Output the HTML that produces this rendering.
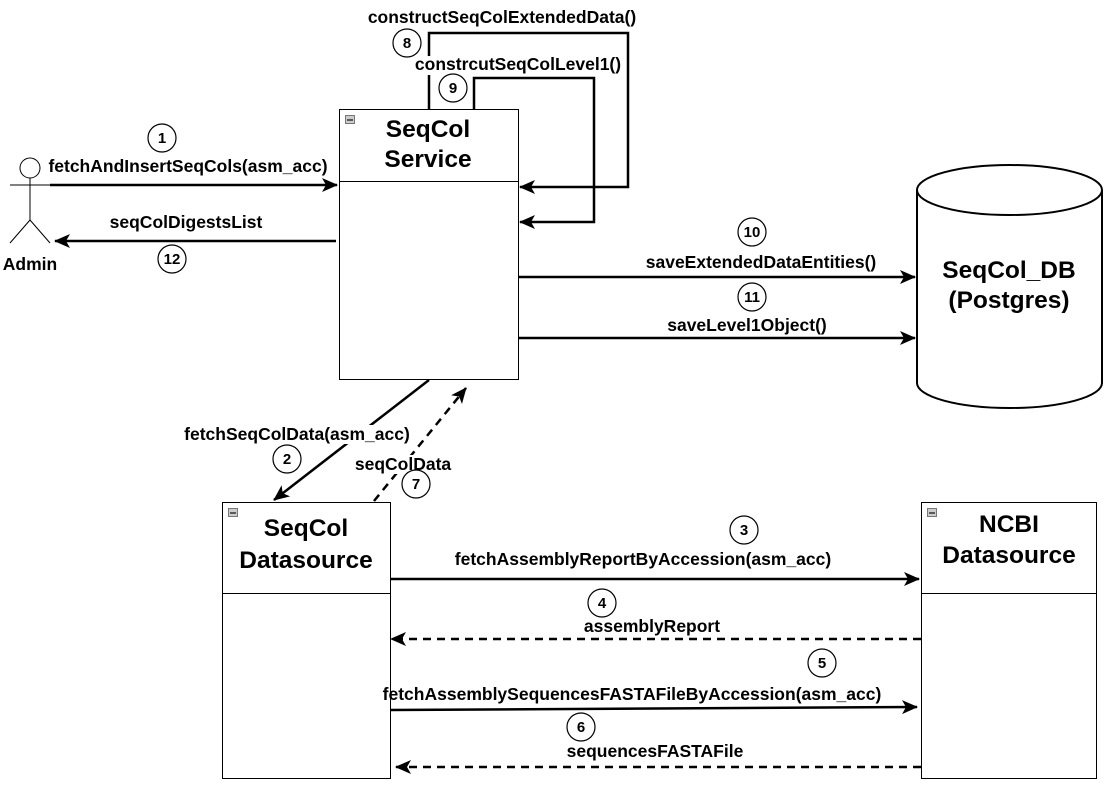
<!DOCTYPE html>
<html><head><style>
body{margin:0;background:#fff;}
svg{display:block;font-family:"Liberation Sans",Arial,sans-serif;font-weight:bold;}
.l{font-size:17.5px;text-anchor:middle;}
.n{font-size:15px;text-anchor:middle;}
.t{font-size:24.5px;text-anchor:middle;}
</style></head><body>
<svg width="1109" height="785" viewBox="0 0 1109 785" xmlns="http://www.w3.org/2000/svg">
<defs>
<marker id="b" markerWidth="16" markerHeight="16" refX="15" refY="8" orient="auto" markerUnits="userSpaceOnUse" viewBox="0 0 16 16">
<path d="M0,1 L16,8 L0,15 L4,8 Z" fill="#000"/></marker>
</defs>
<g stroke="#000" fill="none" stroke-width="1">
<circle cx="30" cy="168" r="10"/>
<line x1="30" y1="178" x2="30" y2="220"/>
<line x1="10" y1="185" x2="50" y2="185"/>
<line x1="30" y1="220" x2="10" y2="243"/>
<line x1="30" y1="220" x2="50" y2="243"/>
<rect x="339.5" y="109.5" width="179" height="270"/>
<line x1="339" y1="181.5" x2="518" y2="181.5"/>
<rect x="222.5" y="502.5" width="168" height="276"/>
<line x1="222" y1="593.5" x2="390" y2="593.5"/>
<rect x="921.5" y="502.5" width="175" height="276"/>
<line x1="921" y1="593.5" x2="1096" y2="593.5"/>
<path d="M917,190 L917,383 A92.5,25 0 0 0 1102,383 L1102,190" stroke-width="2"/>
<ellipse cx="1009.5" cy="190" rx="92.5" ry="25" stroke-width="2"/>
</g>
<g fill="#ccc" stroke="#777" stroke-width="1">
<rect x="345.5" y="115.5" width="9" height="8"/><rect x="228.5" y="508.5" width="9" height="8"/><rect x="927.5" y="508.5" width="9" height="8"/>
</g>
<g stroke="#333" stroke-width="1.5"><line x1="347" y1="120" x2="353" y2="120"/><line x1="230" y1="513" x2="236" y2="513"/><line x1="929" y1="513" x2="935" y2="513"/></g>
<g stroke="#000" stroke-width="2.5" fill="none">
<polyline points="429,109 429,33 628,33 628,187 520,187" marker-end="url(#b)"/>
<polyline points="474,109 474,78 594,78 594,222 520,222" marker-end="url(#b)"/>
<line x1="50" y1="185" x2="337" y2="185" marker-end="url(#b)"/>
<line x1="336" y1="241" x2="55" y2="241" marker-end="url(#b)"/>
<line x1="518" y1="277" x2="915" y2="277" marker-end="url(#b)"/>
<line x1="518" y1="338" x2="915" y2="338" marker-end="url(#b)"/>
<line x1="429" y1="380" x2="274" y2="500" marker-end="url(#b)"/>
<line x1="374" y1="501" x2="466" y2="388" stroke-dasharray="8,6" marker-end="url(#b)"/>
<line x1="390" y1="579" x2="919" y2="579" marker-end="url(#b)"/>
<line x1="921" y1="639" x2="391" y2="639" stroke-dasharray="8,6" marker-end="url(#b)"/>
<line x1="390" y1="710" x2="917" y2="707" marker-end="url(#b)"/>
<line x1="921" y1="767" x2="396" y2="767" stroke-dasharray="8,6" marker-end="url(#b)"/>
</g>
<g fill="#fff">
<rect x="185" y="425" width="226" height="19"/>
<rect x="354" y="455" width="98" height="19"/>
<rect x="416" y="56" width="206" height="19"/>
</g>
<g fill="#000">
<text class="l" x="188" y="172">fetchAndInsertSeqCols(asm_acc)</text>
<text class="l" x="186" y="228">seqColDigestsList</text>
<text class="l" x="502" y="23">constructSeqColExtendedData()</text>
<text class="l" x="518" y="70">constrcutSeqColLevel1()</text>
<text class="l" x="761" y="268">saveExtendedDataEntities()</text>
<text class="l" x="747" y="331">saveLevel1Object()</text>
<text class="l" x="297" y="440">fetchSeqColData(asm_acc)</text>
<text class="l" x="403" y="470">seqColData</text>
<text class="l" x="643" y="565">fetchAssemblyReportByAccession(asm_acc)</text>
<text class="l" x="652" y="632">assemblyReport</text>
<text class="l" x="632" y="700">fetchAssemblySequencesFASTAFileByAccession(asm_acc)</text>
<text class="l" x="655" y="757">sequencesFASTAFile</text>
<text class="l" x="30" y="270">Admin</text>
<text class="t" x="428" y="137">SeqCol</text>
<text class="t" x="428" y="167">Service</text>
<text class="t" x="306" y="536">SeqCol</text>
<text class="t" x="306" y="568">Datasource</text>
<text class="t" x="1009" y="532">NCBI</text>
<text class="t" x="1009" y="563">Datasource</text>
<text class="t" x="1009" y="278">SeqCol_DB</text>
<text class="t" x="1009" y="308">(Postgres)</text>
</g>
<g stroke="#000" stroke-width="1.2" fill="#fff">
<circle cx="162" cy="138" r="14"/><circle cx="172" cy="259" r="14"/>
<circle cx="407" cy="43" r="14"/><circle cx="453" cy="88" r="14"/>
<circle cx="752" cy="232" r="14"/><circle cx="752" cy="297" r="14"/>
<circle cx="287" cy="459" r="14"/><circle cx="416" cy="484" r="14"/>
<circle cx="744" cy="530" r="14"/><circle cx="602" cy="603" r="14"/>
<circle cx="822" cy="663" r="14"/><circle cx="581" cy="727" r="14"/>
</g>
<g fill="#000">
<text class="n" x="162" y="143">1</text><text class="n" x="172" y="264">12</text>
<text class="n" x="407" y="48">8</text><text class="n" x="453" y="93">9</text>
<text class="n" x="752" y="237">10</text><text class="n" x="752" y="302">11</text>
<text class="n" x="287" y="464">2</text><text class="n" x="416" y="489">7</text>
<text class="n" x="744" y="535">3</text><text class="n" x="602" y="608">4</text>
<text class="n" x="822" y="668">5</text><text class="n" x="581" y="732">6</text>
</g>
</svg>
</body></html>
